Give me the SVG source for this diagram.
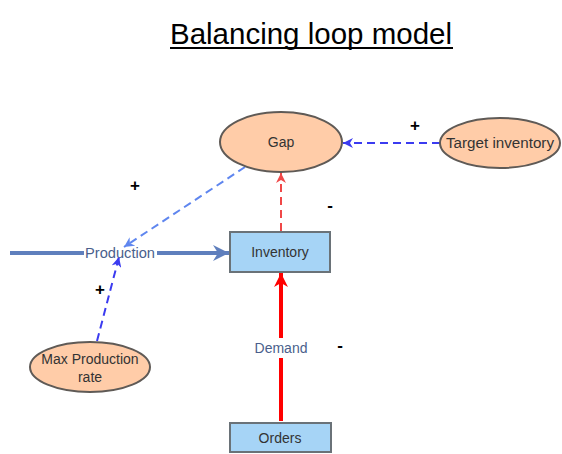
<svg xmlns="http://www.w3.org/2000/svg" width="562" height="454" viewBox="0 0 562 454">
<style>
text{font-family:"Comic Sans MS","Liberation Sans",sans-serif;}
.node{fill:#ffcca8;stroke:#5f5a56;stroke-width:2;}
.stock{fill:#a6d4f6;stroke:#6a7278;stroke-width:2;}
.lbl{font-size:14px;fill:#333;text-anchor:middle;}
.sign{font-size:17px;font-weight:bold;fill:#000;text-anchor:middle;}
.flowlbl{font-size:14px;fill:#4a5f8c;text-anchor:middle;}
</style>
<defs>
<marker id="mBlue" markerWidth="12" markerHeight="10" refX="10" refY="5" orient="auto" markerUnits="userSpaceOnUse"><path d="M0,0 L10,5 L0,10 L3,5 Z" fill="#3b3bf0"/></marker>
<marker id="mLBlue" markerWidth="12" markerHeight="10" refX="10" refY="5" orient="auto" markerUnits="userSpaceOnUse"><path d="M0,0 L10,5 L0,10 L3,5 Z" fill="#5f86ef"/></marker>
<marker id="mRed" markerWidth="12" markerHeight="10" refX="10" refY="5" orient="auto" markerUnits="userSpaceOnUse"><path d="M0,0 L10,5 L0,10 L3,5 Z" fill="#f04848"/></marker>
<marker id="mRedBig" markerWidth="16" markerHeight="14" refX="14" refY="7" orient="auto" markerUnits="userSpaceOnUse"><path d="M0,0 L14,7 L0,14 L4,7 Z" fill="#ff0000"/></marker>
<marker id="mFlow" markerWidth="18" markerHeight="16" refX="16" refY="8" orient="auto" markerUnits="userSpaceOnUse"><path d="M0,0 L16,8 L0,16 L5,8 Z" fill="#5f7fbd"/></marker>
</defs>
<g id="title">
<text x="311" y="44" font-size="29" text-anchor="middle" fill="#000" textLength="282" lengthAdjust="spacingAndGlyphs">Balancing loop model</text>
<line x1="170" y1="48" x2="453" y2="48" stroke="#000" stroke-width="2"/>
</g>
<g id="connectors">
<line x1="10" y1="253" x2="229" y2="253" stroke="#5f7fbd" stroke-width="4" marker-end="url(#mFlow)"/>
<rect x="84" y="244" width="73" height="18" fill="#fff"/>
<text x="120" y="258" class="flowlbl" textLength="70" lengthAdjust="spacingAndGlyphs">Production</text>
<line x1="281" y1="421" x2="281" y2="273" stroke="#ff0000" stroke-width="4" marker-end="url(#mRedBig)"/>
<rect x="254" y="338" width="54" height="20" fill="#fff"/>
<text x="281" y="353" class="flowlbl">Demand</text>
<line x1="440" y1="143" x2="343" y2="143" stroke="#3b3bf0" stroke-width="2" stroke-dasharray="8,5" marker-end="url(#mBlue)"/>
<line x1="281" y1="231" x2="281" y2="173" stroke="#f04848" stroke-width="2" stroke-dasharray="8,5" marker-end="url(#mRed)"/>
<line x1="245" y1="167" x2="124" y2="247" stroke="#5f86ef" stroke-width="2" stroke-dasharray="8,5" marker-end="url(#mLBlue)"/>
<line x1="97" y1="341" x2="119" y2="257" stroke="#3b3bf0" stroke-width="2" stroke-dasharray="8,5" marker-end="url(#mBlue)"/>
<text x="415" y="131" class="sign">+</text>
<text x="330" y="211" class="sign">-</text>
<text x="135" y="191" class="sign">+</text>
<text x="100" y="295" class="sign">+</text>
<text x="340" y="351" class="sign">-</text>
</g>
<g id="gap">
<ellipse cx="281" cy="142" rx="61" ry="30" class="node"/>
<text x="281" y="147" class="lbl">Gap</text>
</g>
<g id="target">
<ellipse cx="500" cy="143" rx="60" ry="25" class="node"/>
<text x="500" y="148" class="lbl" textLength="108" lengthAdjust="spacingAndGlyphs">Target inventory</text>
</g>
<g id="inventory">
<rect x="230" y="232" width="100" height="40" class="stock"/>
<text x="280" y="257" class="lbl">Inventory</text>
</g>
<g id="maxprod">
<ellipse cx="90" cy="367" rx="60" ry="25" class="node"/>
<text x="90" y="364" class="lbl">Max Production</text>
<text x="90" y="382" class="lbl">rate</text>
</g>
<g id="orders">
<rect x="230" y="423" width="101" height="29" class="stock"/>
<text x="280" y="443" class="lbl">Orders</text>
</g>
</svg>
